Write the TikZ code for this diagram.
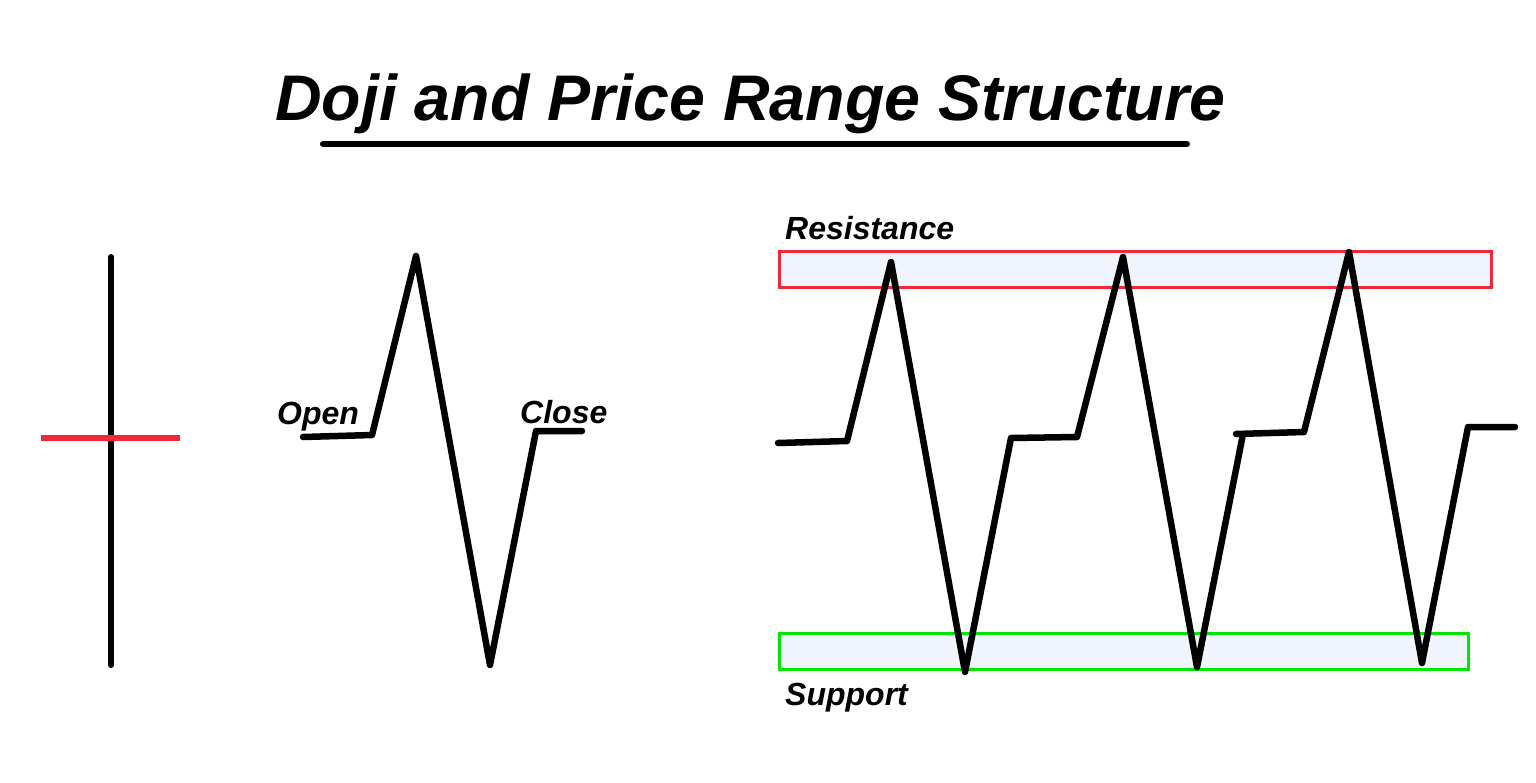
\documentclass[tikz,border=0pt]{standalone}
\usepackage{fontspec}
\setmainfont{Liberation Sans}
\definecolor{dojired}{RGB}{240,40,58}
\definecolor{zonegreen}{RGB}{0,230,0}
\definecolor{zonefill}{RGB}{240,244,253}
\begin{document}
\begin{tikzpicture}[x=1pt,y=-1pt,
  price/.style={line width=6.5pt,line cap=round,line join=round,black},
  lbl/.style={anchor=base west,inner sep=0pt,font=\fontsize{32}{32}\selectfont\bfseries\itshape},
  zone/.style={line width=3pt,fill=zonefill}]
\useasboundingbox (0,0) rectangle (1536,782);
% title
\node[anchor=base west,inner sep=0pt,font=\fontsize{64.5}{64.5}\selectfont\bfseries\itshape] (title) at (275,120) {Doji and Price Range Structure};
\draw[line width=6pt,line cap=round] (323,144) -- (1187,144);
% doji
\draw[line width=6pt,line cap=round] (111,257) -- (111,665);
\draw[line width=6pt,dojired] (41,438) -- (180,438);
% middle
\draw[price] (303,437) -- (372,435) -- (416,256) -- (490,665) -- (536,431) -- (582,431);
\node[lbl] (open) at (277,424) {Open};
\node[lbl] (close) at (520,423) {Close};
% zones
\draw[zone,draw=dojired] (779,251) rectangle (1491,287);
\draw[zone,draw=zonegreen] (779,633) rectangle (1468,669);
\node[lbl] (res) at (785,239) {Resistance};
\node[lbl] (sup) at (785,705) {Support};
% right price action
\draw[price] (778,443) -- (847,441) -- (891,262) -- (965,672) -- (1011,438) -- (1077,437) -- (1123,257) -- (1197,667) -- (1243,434);
\draw[price] (1236,434) -- (1304,432) -- (1349,252) -- (1422,663) -- (1468,427) -- (1515,427);
\end{tikzpicture}
\end{document}
